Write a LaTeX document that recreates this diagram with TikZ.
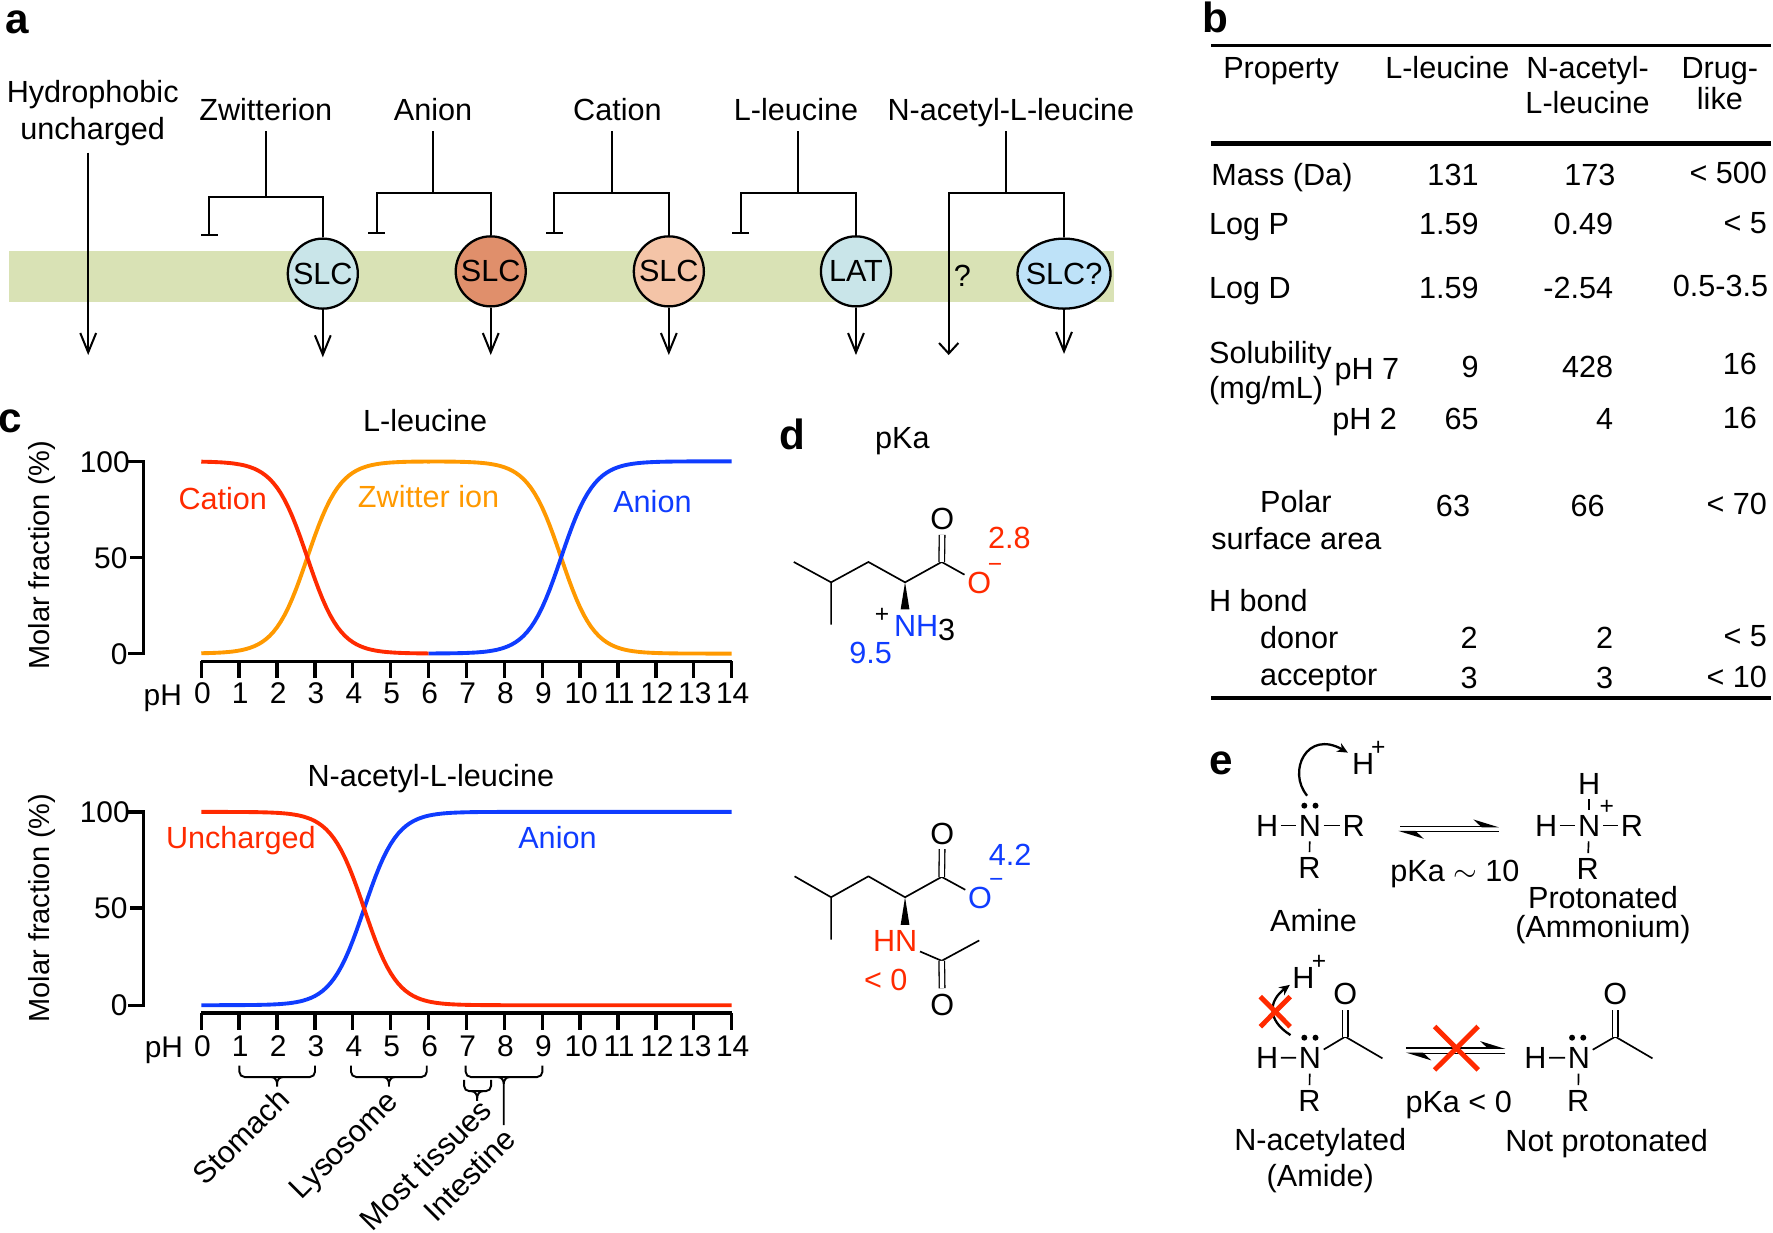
\documentclass[tikz,border=0pt]{standalone}
\usepackage{fontspec}
\setmainfont{Liberation Sans}
\usetikzlibrary{arrows.meta,shapes.geometric}

\definecolor{bandgreen}{HTML}{D9E2B5}
\definecolor{slcteal}{HTML}{C9E5E9}
\definecolor{slcdark}{HTML}{E08F6B}
\definecolor{slclight}{HTML}{F4C4A7}
\definecolor{slcblue}{HTML}{BEE2F8}
\definecolor{chemred}{HTML}{FF2A00}
\definecolor{chemblue}{HTML}{0F3CFF}
\definecolor{chemorange}{HTML}{FF9900}

\tikzset{
  txt/.style={inner sep=0pt, text height=12.4pt, text depth=0pt, font=\fontsize{17.4}{21}\selectfont},
  two/.style={inner sep=0pt, align=center, font=\fontsize{17.4}{20.5}\selectfont},
  num/.style={txt, font=\fontsize{17}{19}\selectfont, text height=12.2pt},
  ylab/.style={txt, rotate=90, font=\fontsize{16.5}{19}\selectfont},
  panel/.style={inner sep=0pt, font=\fontsize{24}{26}\selectfont\bfseries},
  atom/.style={txt, inner xsep=1.4pt, inner ysep=2.6pt},
  small/.style={txt, text height=8pt, font=\fontsize{14}{14}\selectfont},
  conn/.style={line width=1.15pt},
  stem/.style={conn, shorten <=6pt},
  arr/.style={conn, -{Straight Barb[length=11pt,width=9pt,line width=1.15pt]}},
  arrwide/.style={conn, -{Straight Barb[length=6pt,width=11pt,line width=1.15pt]}},
  inhib/.style={conn, -{Bar[width=9.6pt,line width=1.15pt]}},
  pore/.style={draw, line width=1.3pt, inner sep=0pt, font=\fontsize{17.4}{21}\selectfont},
  axis/.style={line width=1.9pt},
  curve/.style={line width=2.2pt},
  rule/.style={line width=#1},
  bond/.style={line width=0.95pt},
  dbl/.style={line width=0.75pt, double, double distance=2.4pt},
  harp/.style={line width=0.85pt, -{Stealth[harpoon,length=13pt,width=8pt]}},
  curly/.style={line width=1.3pt, -{Stealth[length=6pt,width=5.5pt]}},
  xmark/.style={chemred, line width=2.8pt},
  brc/.style={line width=1.1pt, rounded corners=3pt},
  lonepair/.style={circle, fill, inner sep=0pt, minimum size=3.4pt}
}

\begin{document}
\begin{tikzpicture}[x=0.0226cm, y=-0.0226cm,
    declare function={proton(\p,\k)=1/(1+exp(max(-9,min(9,2.3026*(\p-\k)))));}]

    \useasboundingbox (0,0) rectangle (1568,1090);

    % left, right, middle, top, bottom of a pH range
    \def\phbrace#1#2#3#4#5{
      \draw[brc] (#1,#4) |- (#2,#4+10) -- (#2,#4);
      \draw[line width=1.1pt] (#3-5,#4+10) to[out=0,in=90] (#3,#4+16) -- (#3,#5);
      \draw[line width=1.1pt] (#3+5,#4+10) to[out=180,in=90] (#3,#4+16);
    }

    % Panel letters
    \node[panel] (pa) at (15,20) {a};
    \node[panel] (pb) at (1075,15) {b};
    \node[panel] (pc) at (9,373) {c};
    \node[panel] (pd) at (701,384) {d};
    \node[panel] (pe) at (1080,675) {e};

    % a: membrane
    \fill[bandgreen] (8,222) rectangle (985,267);

    % a: labels
    \node[two] (hydro) at (82,100) {Hydrophobic\\uncharged};
    \node[txt] (zwit) at (235,97) {Zwitterion};
    \node[txt] (anion) at (383,97) {Anion};
    \node[txt] (cation) at (546,97) {Cation};
    \node[txt] (leu) at (704,97) {L-leucine};
    \node[txt] (nal) at (894,97) {N-acetyl-L-leucine};

    % a: transporters
    \node[pore, circle, minimum size=1.4cm, fill=slcteal] (zwitP) at (285.5,242) {SLC};
    \node[pore, circle, minimum size=1.4cm, fill=slcdark] (anionP) at (434,240) {SLC};
    \node[pore, circle, minimum size=1.4cm, fill=slclight] (cationP) at (591.5,240) {SLC};
    \node[pore, circle, minimum size=1.4cm, fill=slcteal] (leuP) at (757,240) {LAT};
    \node[pore, ellipse, inner xsep=-5pt, minimum width=1.86cm, minimum height=1.4cm, fill=slcblue] (nalP) at (941,242) {SLC?};
    \node[txt] (quest) at (851,244) {?};

    % a: branch points and free ends
    \coordinate (hydroE) at (78,314);
    \coordinate (zwitJ) at (235,174);
    \coordinate (zwitB) at (185,209);
    \coordinate (zwitE) at (285.5,316);
    \coordinate (anionJ) at (383,171);
    \coordinate (anionB) at (333,207);
    \coordinate (anionE) at (434,314);
    \coordinate (cationJ) at (541,171);
    \coordinate (cationB) at (490,207);
    \coordinate (cationE) at (591.5,314);
    \coordinate (leuJ) at (706,171);
    \coordinate (leuB) at (655,207);
    \coordinate (leuE) at (757,314);
    \coordinate (nalJ) at (890,171);
    \coordinate (nalL) at (839,314);
    \coordinate (nalE) at (941,313);

    % a: connectors
    \draw[arr, shorten <=4pt] (hydro.south -| hydroE) -- (hydroE);
    \draw[stem] (zwit.south -| zwitJ) -- (zwitJ);
    \draw[inhib] (zwitJ) -| (zwitB);
    \draw[conn] (zwitJ) -| (zwitP.north);
    \draw[arr] (zwitP.south) -- (zwitE);
    \draw[stem] (anion.south -| anionJ) -- (anionJ);
    \draw[inhib] (anionJ) -| (anionB);
    \draw[conn] (anionJ) -| (anionP.north);
    \draw[arr] (anionP.south) -- (anionE);
    \draw[stem] (cation.south -| cationJ) -- (cationJ);
    \draw[inhib] (cationJ) -| (cationB);
    \draw[conn] (cationJ) -| (cationP.north);
    \draw[arr] (cationP.south) -- (cationE);
    \draw[stem] (leu.south -| leuJ) -- (leuJ);
    \draw[inhib] (leuJ) -| (leuB);
    \draw[conn] (leuJ) -| (leuP.north);
    \draw[arr] (leuP.south) -- (leuE);
    \draw[stem] (nal.south -| nalJ) -- (nalJ);
    \draw[arrwide] (nalJ) -| (nalL);
    \draw[conn] (nalJ) -| (nalP.north);
    \draw[arr] (nalP.south) -- (nalE);

    % b: table rules
    \draw[rule=1.6pt] (1071,40) -- (1566,40);
    \draw[rule=2.6pt] (1071,127) -- (1566,127);
    \draw[rule=2.2pt] (1071,617) -- (1566,617);

    % b: header
    \node[txt] (hProp) at (1133,60) {Property};
    \node[txt] (hLeu) at (1280,60) {L-leucine};
    \node[txt] (hNal) at (1404,60) {N-acetyl-};
    \node[txt] (hNalB) at (1404,91) {L-leucine};
    \node[txt] (hDrug) at (1521,60) {Drug-};
    \node[txt] (hDrugB) at (1521,87) {like};

    % b: rows
    \node[txt, anchor=west] (mass) at (1071,154) {Mass (Da)};
    \node[txt] (massL) at (1285,154) {131};
    \node[txt] (massN) at (1406,154) {173};
    \node[txt, anchor=east] (massD) at (1563,153) {< 500};

    \node[txt, anchor=west] (logp) at (1069,198) {Log P};
    \node[txt, anchor=east] (logpL) at (1308,198) {1.59};
    \node[txt, anchor=east] (logpN) at (1427,198) {0.49};
    \node[txt, anchor=east] (logpD) at (1563,197) {< 5};

    \node[txt, anchor=west] (logd) at (1069,254) {Log D};
    \node[txt, anchor=east] (logdL) at (1308,254) {1.59};
    \node[txt, anchor=east] (logdN) at (1427,254) {-2.54};
    \node[txt, anchor=east] (logdD) at (1564,253) {0.5-3.5};

    \node[txt, anchor=west] (sol) at (1069,312) {Solubility};
    \node[txt, anchor=west] (solB) at (1069,343) {(mg/mL)};
    \node[txt, anchor=west] (ph7) at (1180,326) {pH 7};
    \node[txt, anchor=east] (ph7L) at (1308,324) {9};
    \node[txt, anchor=east] (ph7N) at (1427,324) {428};
    \node[txt, anchor=east] (ph7D) at (1554,322) {16};
    \node[txt, anchor=west] (ph2) at (1178,370) {pH 2};
    \node[txt, anchor=east] (ph2L) at (1308,370) {65};
    \node[txt, anchor=east] (ph2N) at (1427,370) {4};
    \node[txt, anchor=east] (ph2D) at (1554,369) {16};

    \node[txt] (polar) at (1146,444) {Polar};
    \node[txt, anchor=west] (polarB) at (1071,476) {surface area};
    \node[txt] (polarL) at (1285,447) {63};
    \node[txt] (polarN) at (1404,447) {66};
    \node[txt, anchor=east] (polarD) at (1563,445) {< 70};

    \node[txt, anchor=west] (hb) at (1069,531) {H bond};
    \node[txt, anchor=west] (don) at (1114,564) {donor};
    \node[txt, anchor=east] (donL) at (1307,564) {2};
    \node[txt, anchor=east] (donN) at (1427,564) {2};
    \node[txt, anchor=east] (donD) at (1563,562) {< 5};
    \node[txt, anchor=west] (acc) at (1114,597) {acceptor};
    \node[txt, anchor=east] (accL) at (1307,599) {3};
    \node[txt, anchor=east] (accN) at (1427,599) {3};
    \node[txt, anchor=east] (accD) at (1563,598) {< 10};

    % c: L-leucine plot
    \node[txt] (titleA) at (376,372) {L-leucine};
    \node[ylab] (molarA) at (34,491) {Molar fraction (\%)};
    \draw[axis, line cap=rect] (115,408) -- (127,408) -- (127,578) -- (115,578);
    \draw[axis] (115,493) -- (127,493);
    \node[num, anchor=east] (yA0) at (115,408) {100};
    \node[num, anchor=east] (yA1) at (113,493) {50};
    \node[num, anchor=east] (yA2) at (113,578) {0};
    \draw[axis] (178,585) -- (647,585);
    \node[num] (phA) at (144,614) {pH};
    \foreach \p in {0,...,14} {
      \draw[axis] ({178+33.5*\p},585) -- ({178+33.5*\p},600);
      \node[num] (tickA\p) at ({179+33.5*\p},613) {\p};
    }
    \draw[curve, chemorange, samples=141, domain=0:14] plot ({178+33.5*\x},{578-170*(proton(\x,9.5)-proton(\x,2.8))});
    \draw[curve, chemred, samples=61, domain=0:6] plot ({178+33.5*\x},{578-170*proton(\x,2.8)});
    \draw[curve, chemblue, samples=81, domain=6:14] plot ({178+33.5*\x},{578-170*(1-proton(\x,9.5))});
    \node[txt, chemred] (lblCat) at (197,441) {Cation};
    \node[txt, chemorange] (lblZwit) at (379,439) {Zwitter ion};
    \node[txt, chemblue] (lblAn) at (577,444) {Anion};

    % c: N-acetyl-L-leucine plot
    \node[txt] (titleB) at (381,686) {N-acetyl-L-leucine};
    \node[ylab] (molarB) at (34,803) {Molar fraction (\%)};
    \draw[axis, line cap=rect] (115,718) -- (127,718) -- (127,889) -- (115,889);
    \draw[axis] (115,803) -- (127,803);
    \node[num, anchor=east] (yB0) at (115,718) {100};
    \node[num, anchor=east] (yB1) at (113,803) {50};
    \node[num, anchor=east] (yB2) at (113,889) {0};
    \draw[axis] (178,896) -- (647,896);
    \node[num] (phB) at (145,926) {pH};
    \foreach \p in {0,...,14} {
      \draw[axis] ({178+33.5*\p},896) -- ({178+33.5*\p},911);
      \node[num] (tickB\p) at ({179+33.5*\p},925) {\p};
    }
    \draw[curve, chemblue, samples=141, domain=0:14] plot ({178+33.5*\x},{889-171*(1-proton(\x,4.3))});
    \draw[curve, chemred, samples=141, domain=0:14] plot ({178+33.5*\x},{889-171*proton(\x,4.3)});
    \node[txt, chemred] (lblUn) at (213,741) {Uncharged};
    \node[txt, chemblue] (lblAnB) at (493,741) {Anion};

    % c: pH ranges
    \phbrace{211.7}{278.6}{245}{942.5}{961}
    \phbrace{310.4}{377.4}{344}{942.5}{961}
    \phbrace{411.8}{479.7}{445.5}{942.5}{995}
    \phbrace{410.4}{434.3}{422}{955}{973.5}
    \node[txt, rotate=45] (stomach) at (213,1005) {Stomach};
    \node[txt, rotate=45] (lyso) at (303.5,1012) {Lysosome};
    \node[txt, rotate=45] (most) at (376,1030) {Most tissues};
    \node[txt, rotate=45] (intest) at (415,1039) {Intestine};

    % d: L-leucine
    \node[txt] (pka) at (798,387) {pKa};
    \coordinate (a1) at (702,497);
    \coordinate (a2) at (735,515);
    \coordinate (a3) at (735,552.5);
    \coordinate (a4) at (768,497);
    \coordinate (a5) at (800.4,515);
    \coordinate (a6) at (832.8,497);
    \node[atom] (aO) at (833.4,459) {O};
    \node[atom, chemred] (aOm) at (866,515.5) {O};
    \node[small, chemred] (aMinus) at (880,500) {−};
    \node[txt, chemred] (aPka) at (892.7,475) {2.8};
    \node[txt] (aNH) at (817.7,553.5) {\textcolor{chemblue}{NH}\raisebox{-2pt}{3}};
    \node[small] (aPlus) at (780,544) {+};
    \node[txt, chemblue] (aPkb) at (770,577.5) {9.5};
    \draw[bond, line join=round] (a1) -- (a2) -- (a3);
    \draw[bond, line join=round] (a2) -- (a4) -- (a5) -- (a6) -- (aOm);
    \draw[dbl] (a6) -- (aO);
    \fill (a5) -- (796.5,539) -- (804.3,539) -- cycle;

    % d: N-acetyl-L-leucine
    \coordinate (b1) at (702.7,775);
    \coordinate (b2) at (735,793.5);
    \coordinate (b3) at (735,831);
    \coordinate (b4) at (768,775);
    \coordinate (b5) at (800.4,793.5);
    \coordinate (b6) at (832.8,775.5);
    \coordinate (b7) at (832.8,849.7);
    \coordinate (b8) at (866,831.7);
    \node[atom] (bO) at (833.4,737) {O};
    \node[atom] (bOb) at (833.4,888) {O};
    \node[atom, chemblue] (bOm) at (866.7,794) {O};
    \node[small, chemblue] (bMinus) at (881,779) {−};
    \node[txt, chemblue] (bPka) at (893.3,755.5) {4.2};
    \node[atom, chemred] (bHN) at (791.6,832) {HN};
    \node[txt, chemred] (bPkb) at (783.3,866) {< 0};
    \draw[bond, line join=round] (b1) -- (b2) -- (b3);
    \draw[bond, line join=round] (b2) -- (b4) -- (b5) -- (b6) -- (bOm);
    \draw[dbl] (b6) -- (bO);
    \draw[bond, line join=round] (bHN) -- (b7) -- (b8);
    \draw[dbl] (b7) -- (bOb);
    \fill (b5) -- (796.5,818) -- (804.3,818) -- cycle;

    % e: amine
    \node[atom] (eH) at (1120.6,730) {H};
    \node[atom] (eN) at (1158.4,730) {N};
    \node[atom] (eR) at (1197.2,730) {R};
    \node[atom] (eRb) at (1158,767.5) {R};
    \node[txt] (eProton) at (1205.5,675) {H};
    \node[small] (ePlus) at (1219,662) {+};
    \node[lonepair] (eD1) at (1153.5,712.5) {};
    \node[lonepair] (eD2) at (1163.4,712.5) {};
    \coordinate (eArcS) at (1156,703.7);
    \coordinate (eArcE) at (1192,665.6);
    \draw[bond] (eH) -- (eN) -- (eR);
    \draw[bond] (eN) -- (eRb);
    \draw[curly] (eArcS) .. controls (1138,682) and (1156,645) .. (eArcE);
    \node[txt] (eAmine) at (1161.7,814) {Amine};

    % e: ammonium
    \node[atom] (fH) at (1367.3,730) {H};
    \node[atom] (fN) at (1405.5,730) {N};
    \node[atom] (fR) at (1443.3,730) {R};
    \node[atom] (fRb) at (1404,768.5) {R};
    \node[atom] (fHt) at (1405.5,693) {H};
    \node[small] (fPlus) at (1421,714) {+};
    \draw[bond] (fH) -- (fN) -- (fR);
    \draw[bond] (fN) -- (fRb);
    \draw[bond] (fN) -- (fHt);
    \node[two] (fName) at (1417.6,809) {Protonated\\[-3.8pt](Ammonium)};

    % e: first equilibrium
    \coordinate (eqAl) at (1238.4,731);
    \coordinate (eqAr) at (1325.5,731);
    \coordinate (eqBl) at (1236.7,735.5);
    \coordinate (eqBr) at (1325.5,735.5);
    \draw[harp] (eqAl) -- (eqAr);
    \draw[harp] (eqBr) -- (eqBl);
    \node[txt] (eqKa) at (1286.7,770) {pKa $\sim$ 10};

    % e: amide
    \node[atom] (gH) at (1120.6,935.5) {H};
    \node[atom] (gN) at (1158.4,935.5) {N};
    \node[atom] (gRb) at (1158,973.7) {R};
    \node[atom] (gO) at (1189.7,879) {O};
    \node[txt] (gProton) at (1152.8,864.4) {H};
    \node[small] (gPlus) at (1166.6,851.4) {+};
    \node[lonepair] (gD1) at (1153.5,917.7) {};
    \node[lonepair] (gD2) at (1163.4,917.7) {};
    \coordinate (gC) at (1189.7,916.8);
    \coordinate (gMe) at (1222.6,936);
    \coordinate (gArcS) at (1141.3,915.4);
    \coordinate (gArcE) at (1140.7,871);
    \draw[bond] (gH) -- (gN) -- (gRb);
    \draw[bond, line join=round] (gN) -- (gC) -- (gMe);
    \draw[dbl] (gC) -- (gO);
    \draw[curly] (gArcS) .. controls (1120,902) and (1122,885) .. (gArcE);
    \draw[xmark] (1114.6,881.4) -- (1141,908);
    \draw[xmark] (1141,881.4) -- (1114.6,908);
    \node[two] (gName) at (1167.6,1026) {N-acetylated\\(Amide)};

    % e: second equilibrium
    \coordinate (eqCl) at (1243.3,927);
    \coordinate (eqCr) at (1331.4,927);
    \coordinate (eqDl) at (1243.3,931.5);
    \coordinate (eqDr) at (1331.4,931.5);
    \draw[harp] (eqCl) -- (eqCr);
    \draw[harp] (eqDr) -- (eqDl);
    \draw[xmark] (1268.7,907.8) -- (1307.3,946.2);
    \draw[xmark] (1307.3,907.8) -- (1268.7,946.2);
    \node[txt] (eqKb) at (1290,974.3) {pKa < 0};

    % e: not protonated
    \node[atom] (kH) at (1357.8,935.5) {H};
    \node[atom] (kN) at (1396.3,935.5) {N};
    \node[atom] (kRb) at (1395.6,973.7) {R};
    \node[atom] (kO) at (1428.5,879) {O};
    \node[lonepair] (kD1) at (1390.3,917.7) {};
    \node[lonepair] (kD2) at (1400.2,917.7) {};
    \coordinate (kC) at (1428.5,916.8);
    \coordinate (kMe) at (1461.4,936);
    \draw[bond] (kH) -- (kN) -- (kRb);
    \draw[bond, line join=round] (kN) -- (kC) -- (kMe);
    \draw[dbl] (kC) -- (kO);
    \node[txt] (kName) at (1420.9,1009) {Not protonated};

\end{tikzpicture}
\end{document}
